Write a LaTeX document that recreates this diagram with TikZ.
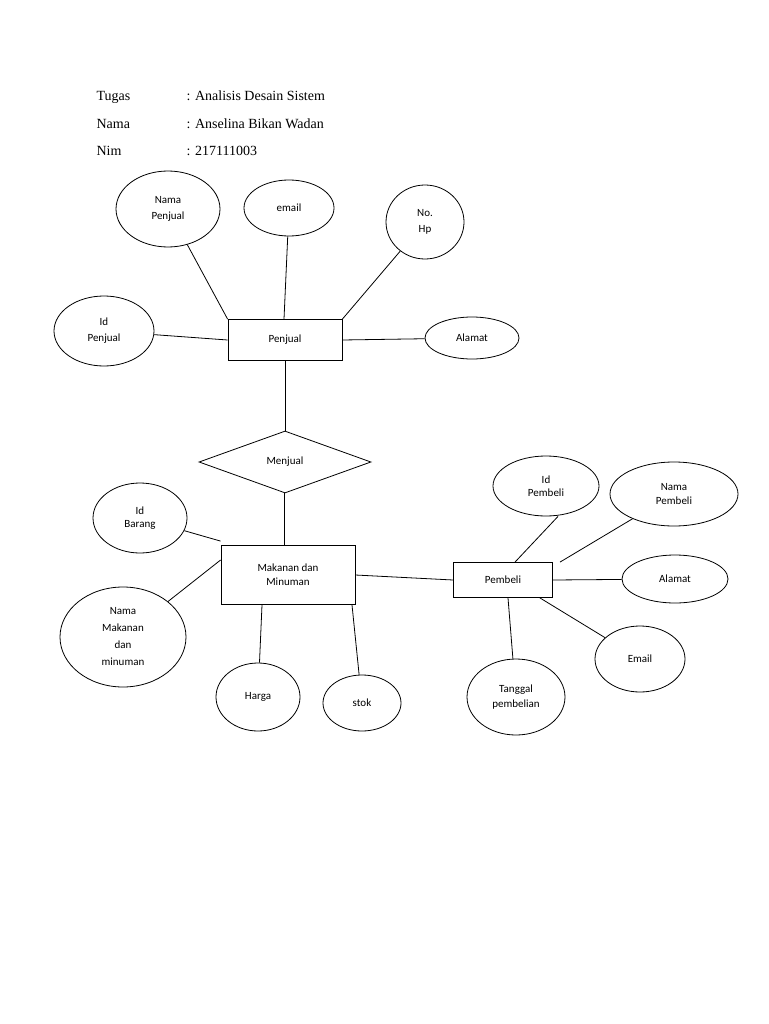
\documentclass[tikz,border=0pt]{standalone}
\usepackage{fontspec}
\setmainfont{Carlito}
\newfontfamily\hdr{Liberation Serif}
\usetikzlibrary{shapes.geometric}
\begin{document}
\begin{tikzpicture}[x=1pt,y=-1pt,
  ent/.style={draw,thick,rectangle,minimum width=#1,inner sep=0pt},
  att/.style={draw,thick,ellipse,inner sep=0pt,align=center,font=\fontsize{11}{16}\selectfont},
  lbl/.style={font=\fontsize{11}{14}\selectfont,align=center},
  hd/.style={anchor=base west,font=\hdr\fontsize{14}{16}\selectfont},
  ln/.style={thick}]
\useasboundingbox (0,0) rectangle (768,1024);
\node[hd] (t1) at (93,101) {Tugas};
\node[hd] (t1v) at (183,101) {: Analisis Desain Sistem};
\node[hd] (t2) at (93,129) {Nama};
\node[hd] (t2v) at (183,129) {: Anselina Bikan Wadan};
\node[hd] (t3) at (93,156) {Nim};
\node[hd] (t3v) at (183,156) {: 217111003};

\node[ent=114,minimum height=41,lbl] (penjual) at (285,340) {Penjual};
\node[draw,thick,diamond,aspect=2.8,minimum width=172,minimum height=62,inner sep=0pt,lbl] (menjual) at (285,462) {Menjual};
\node[ent=134,minimum height=59,lbl] (makanan) at (288,575) {Makanan dan\\Minuman};
\node[ent=99,minimum height=35,lbl] (pembeli) at (503,580) {Pembeli};

\node[att,minimum width=104,minimum height=76] (namapj) at (168,209) {Nama\\Penjual};
\node[att,minimum width=90,minimum height=56] (email) at (289,208) {email};
\node[att,minimum width=78,minimum height=74] (nohp) at (425,222) {No.\\Hp};
\node[att,minimum width=100,minimum height=70] (idpj) at (104,331) {Id\\Penjual};
\node[att,minimum width=94,minimum height=42] (alamat1) at (472,338) {Alamat};
\node[att,minimum width=94,minimum height=70,font=\fontsize{11}{13}\selectfont] (idbar) at (140,518) {Id\\Barang};
\node[att,minimum width=126,minimum height=100,font=\fontsize{11}{17}\selectfont] (namamk) at (123,637) {Nama\\Makanan\\dan\\minuman};
\node[att,minimum width=84,minimum height=68] (harga) at (258,697) {Harga};
\node[att,minimum width=78,minimum height=56] (stok) at (362,703) {stok};
\node[att,minimum width=106,minimum height=60,font=\fontsize{11}{13}\selectfont] (idpb) at (546,486) {Id\\Pembeli};
\node[att,minimum width=128,minimum height=64,font=\fontsize{11}{14}\selectfont] (namapb) at (674,494) {Nama\\Pembeli};
\node[att,minimum width=106,minimum height=48] (alamat2) at (675,579) {Alamat};
\node[att,minimum width=90,minimum height=66] (email2) at (640,659) {Email};
\node[att,minimum width=98,minimum height=76,font=\fontsize{11}{15}\selectfont] (tgl) at (516,697) {Tanggal\\pembelian};

\draw[ln] (namapj) -- (penjual.north west);
\draw[ln] (email) -- ([xshift=-1]penjual.north);
\draw[ln] (nohp) -- ([xshift=0]penjual.north east);
\draw[ln] (idpj) -- (penjual.west);
\draw[ln] (alamat1) -- (penjual.east);
\draw[ln] (penjual.south) -- (menjual.north);
\draw[ln] ([xshift=-1]menjual.south) -- ([xshift=-4]makanan.north);
\draw[ln] (idbar) -- ([yshift=4]makanan.north west);
\draw[ln] (namamk) -- ([yshift=15]makanan.west);
\draw[ln] ([xshift=-26]makanan.south) -- (harga);
\draw[ln] ([xshift=64]makanan.south) -- (stok);
\draw[ln] (makanan.east) -- (pembeli.west);
\draw[ln] ([xshift=12]idpb.south) -- ([xshift=12]pembeli.north);
\draw[ln] (namapb) -- ([xshift=57]pembeli.north);
\draw[ln] (alamat2) -- (pembeli.east);
\draw[ln] ([xshift=-13]pembeli.south east) -- (email2);
\draw[ln] ([xshift=5]pembeli.south) -- (tgl);
\end{tikzpicture}
\end{document}
